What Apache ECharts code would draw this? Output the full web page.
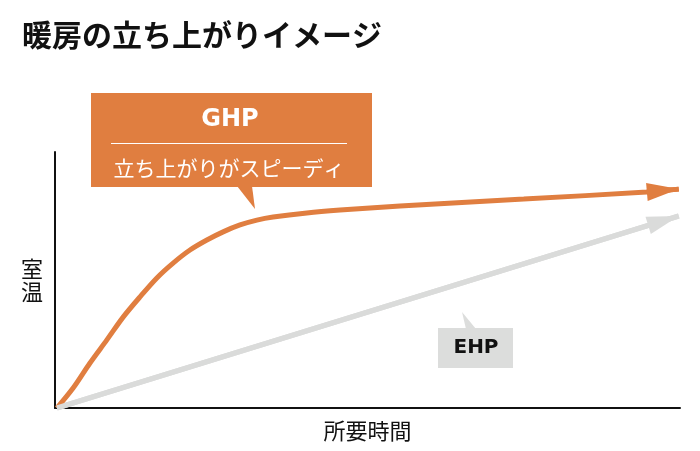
<!DOCTYPE html>
<html>
<head>
<meta charset="utf-8">
<script src="https://cdn.jsdelivr.net/npm/echarts@6/dist/echarts.min.js"></script>
<style>
html,body{margin:0;padding:0;background:#fff;}
#c{width:700px;height:451px;}
</style>
</head>
<body>
<div id="c"></div>
<script>
var titleText = '暖房の立ち上がりイメージ';
var xName = '所要時間';
var yName = '室温';
var ghpName = 'GHP';
var ghpNote = '立ち上がりがスピーディ';
var ehpName = 'EHP';

var ghpX = [0.3, 2.9, 5.6, 8.3, 10.9, 13.6, 16.3, 18.9, 21.6, 24.3, 26.9, 29.6, 32.3, 34.9, 40.3, 45.6, 55.2, 75.0, 94.7, 99.8];
var ghpY = [0, 7.8, 17.6, 26.6, 35.5, 43.4, 50.8, 56.6, 61.7, 65.6, 68.8, 71.5, 73.4, 74.6, 76.2, 77.3, 78.9, 81.6, 84.4, 85.5];
var ehpX = [0.3, 99.8];
var ehpY = [0, 75.0];

var ORANGE = '#e07e40';
var GRAY = '#dadbda';
var FONT = '"Noto Sans CJK JP", "Noto Sans", sans-serif';

function pairs(xs, ys){ return xs.map(function(x,i){ return [x, ys[i]]; }); }
var ghpData = pairs(ghpX, ghpY);
var ehpData = pairs(ehpX, ehpY);

function arrowLine(data){
  var a = data[data.length-2], b = data[data.length-1];
  return [[{coord:a},{coord:b}]];
}

var chart = echarts.init(document.getElementById('c'), null, {renderer:'canvas'});
chart.setOption({
  animation:false,
  backgroundColor:'#fff',
  title:{text:titleText,left:17,top:15,textStyle:{fontFamily:FONT,fontSize:30,fontWeight:'bold',color:'#111'}},
  grid:{left:55,right:20,top:152,bottom:43,containLabel:false},
  xAxis:{type:'value',min:0,max:100,
    name:xName,nameLocation:'middle',nameGap:12,
    nameTextStyle:{fontFamily:FONT,fontSize:22,color:'#111'},
    axisLine:{show:true,lineStyle:{color:'#111',width:2}},
    axisTick:{show:false},axisLabel:{show:false},splitLine:{show:false}},
  yAxis:{type:'value',min:0,max:100,
    name:yName.split('').join('\n'),nameLocation:'middle',nameGap:12,nameRotate:0,
    nameTextStyle:{fontFamily:FONT,fontSize:22,color:'#111',lineHeight:23},
    axisLine:{show:true,lineStyle:{color:'#111',width:2}},
    axisTick:{show:false},axisLabel:{show:false},splitLine:{show:false}},
  series:[
    {type:'line',name:ehpName,data:ehpData,symbol:'none',silent:true,
     lineStyle:{color:GRAY,width:5},
     markLine:{silent:true,symbol:['none','triangle'],symbolSize:[18,32],symbolOffset:[0,[0,16]],
       label:{show:false},lineStyle:{color:GRAY,width:5,type:'solid',opacity:1},
       data:arrowLine(ehpData)}},
    {type:'line',name:ghpName,data:ghpData,symbol:'none',smooth:0.3,silent:true,
     lineStyle:{color:ORANGE,width:5},
     markLine:{silent:true,symbol:['none','triangle'],symbolSize:[18,32],symbolOffset:[0,[0,16]],
       label:{show:false},lineStyle:{color:ORANGE,width:5,type:'solid',opacity:1},
       data:arrowLine(ghpData)}}
  ],
  graphic:[
    {type:'rect',shape:{x:91,y:93,width:281,height:94},style:{fill:ORANGE},z:10},
    {type:'polygon',shape:{points:[[237,186],[252,186],[255,209]]},style:{fill:ORANGE},z:10},
    {type:'line',shape:{x1:111,y1:143.5,x2:347,y2:143.5},style:{stroke:'#fff',lineWidth:1},z:11},
    {type:'text',x:230,y:120,style:{text:ghpName,fill:'#fff',font:'bold 24px "DejaVu Sans", sans-serif',align:'center',verticalAlign:'middle'},z:11},
    {type:'text',x:229,y:168,style:{text:ghpNote,fill:'#fff',font:'21px "Noto Sans CJK JP", sans-serif',align:'center',verticalAlign:'middle'},z:11},
    {type:'rect',shape:{x:438,y:328,width:75,height:40},style:{fill:'#dcdddc'},z:10},
    {type:'polygon',shape:{points:[[462,312],[466,329],[476,329]]},style:{fill:'#dcdddc'},z:10},
    {type:'text',x:476,y:348,style:{text:ehpName,fill:'#111',font:'bold 20px "DejaVu Sans", sans-serif',align:'center',verticalAlign:'middle'},z:11}
  ]
});
</script>
</body>
</html>
